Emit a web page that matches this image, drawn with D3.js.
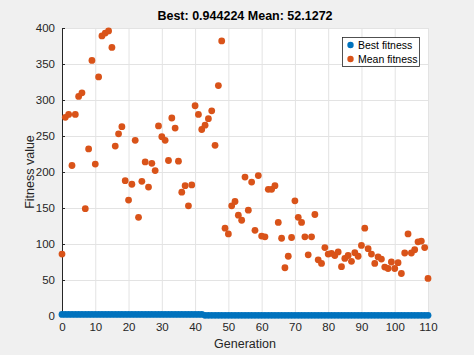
<!DOCTYPE html>
<html><head><meta charset="utf-8">
<script src="https://cdn.jsdelivr.net/npm/d3@7"></script>
<style>
html,body{margin:0;padding:0;background:#f0f0f0;}
svg{display:block;font-family:"Liberation Sans",Arial,Helvetica,sans-serif;}
</style></head>
<body>
<svg id="c" width="474" height="355"></svg>
<script>
const generations = d3.range(0, 111);
const meanFitness = [
 86,276,280,209,280,305,310,149,232,355,
 211,332,389,393,396,373,236,253,263,188,
 161,183,244,137,187,214,179,212,202,264,
 249,244,216,275,261,215,172,181,153,182,
 292,280,259,265,274,285,237,320,382,122,
 114,153,159,140,133,193,147,186,119,195,
 111,110,176,176,181,130,108,67,83,109,
 160,137,130,110,85,110,141,78,73,95,
 86,87,84,89,68.5,80,84,76,88,83,
 98,122,93.5,86,73,82,79,68,66,75,
 66,74,59,87.5,114,87.5,92,103,104,95,
 52.1272
];
const bestFitness = generations.map(g => g <= 42 ? 2.2 : 0.944224);
const xTicks = [0,10,20,30,40,50,60,70,80,90,100,110];
const yTicks = [0,50,100,150,200,250,300,350,400];
const titleText = "Best: 0.944224 Mean: 52.1272";
const seriesNames = ["Best fitness", "Mean fitness"];
const seriesColors = ["#0072BD", "#D95319"];

const svg = d3.select("#c");
const L = 62, R = 428, T = 28, B = 316;
const x = d3.scaleLinear().domain([0,110]).range([L,R]);
const y = d3.scaleLinear().domain([0,400]).range([B,T]);

svg.append("rect").attr("x",L).attr("y",T).attr("width",R-L).attr("height",B-T).attr("fill","#fff");

// grid
const grid = svg.append("g").attr("stroke","#e3e3e3").attr("stroke-width",1);
xTicks.forEach(t => grid.append("line").attr("x1",x(t)+0.5).attr("x2",x(t)+0.5).attr("y1",T).attr("y2",B));
yTicks.forEach(t => grid.append("line").attr("x1",L).attr("x2",R).attr("y1",y(t)+0.5).attr("y2",y(t)+0.5));

// axes
const xAxis = d3.axisBottom(x).tickValues(xTicks).tickSize(-3).tickPadding(7);
const yAxis = d3.axisLeft(y).tickValues(yTicks).tickSize(-3).tickPadding(7);
const gx = svg.append("g").attr("transform",`translate(0,${B})`).call(xAxis);
const gy = svg.append("g").attr("transform",`translate(${L},0)`).call(yAxis);
[gx,gy].forEach(g=>{
  g.select(".domain").attr("stroke","#262626");
  g.selectAll(".tick line").attr("stroke","#262626");
  g.selectAll("text").attr("fill","#262626").attr("font-size","11.5px").attr("font-family","Liberation Sans, Arial, sans-serif");
});

// points
const r = 3.4;
svg.append("g").selectAll("circle").data(generations).join("circle")
  .attr("cx", g => x(g)).attr("cy", g => y(bestFitness[g])).attr("r", r).attr("fill", seriesColors[0]);
svg.append("g").selectAll("circle").data(generations).join("circle")
  .attr("cx", g => x(g)).attr("cy", g => y(meanFitness[g])).attr("r", r).attr("fill", seriesColors[1]);

// title and labels
svg.append("text").attr("x",(L+R)/2).attr("y",20).attr("text-anchor","middle")
  .attr("font-size","12.5px").attr("font-weight","bold").attr("fill","#000").text(titleText);
svg.append("text").attr("x",(L+R)/2).attr("y",348).attr("text-anchor","middle")
  .attr("font-size","12.5px").attr("fill","#262626").text("Generation");
svg.append("text").attr("transform",`translate(34,${(T+B)/2}) rotate(-90)`).attr("text-anchor","middle")
  .attr("font-size","12.5px").attr("fill","#262626").text("Fitness value");

// legend
const lg = svg.append("g");
lg.append("rect").attr("x",342.5).attr("y",37.5).attr("width",77).attr("height",29)
  .attr("fill","#fff").attr("stroke","#262626").attr("stroke-width",0.8);
seriesNames.forEach((n,i)=>{
  const yy = 45 + i*14;
  lg.append("circle").attr("cx",350.5).attr("cy",yy).attr("r",3.2).attr("fill",seriesColors[i]);
  lg.append("text").attr("x",358).attr("y",yy+3.8).attr("font-size","10.5px").attr("fill","#000").text(n);
});
</script>
</body></html>
